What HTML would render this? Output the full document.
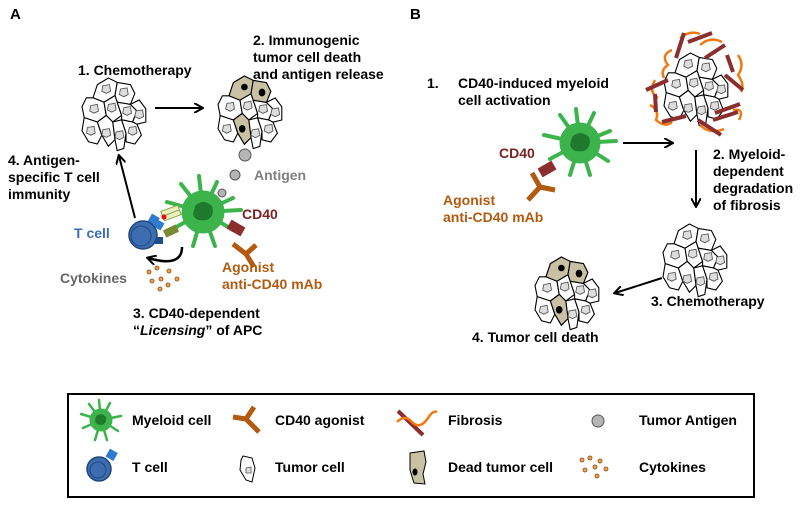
<!DOCTYPE html>
<html><head><meta charset="utf-8">
<style>
body{margin:0;background:#fff;}
svg{display:block;font-family:"Liberation Sans",Arial,sans-serif;font-weight:bold;}
</style></head>
<body>
<svg width="800" height="506" viewBox="0 0 800 506" xmlns="http://www.w3.org/2000/svg">
<defs>
<marker id="ah" markerWidth="10" markerHeight="10" refX="8" refY="5" orient="auto" markerUnits="userSpaceOnUse">
<path d="M0,0 L9,5 L0,10" fill="none" stroke="#000" stroke-width="2"/>
</marker>
<g id="nuc"><path d="M-3,-3 L3,-4 L4,2 L0,4 L-4,2 Z" fill="#ddd" stroke="#555" stroke-width="0.8"/></g>
<g id="clus" stroke="#000" stroke-width="1" fill="#fff">
<path d="M14,6 L24,0 L32,4 L30,16 L20,22 L10,18 Z"/>
<path d="M32,4 L44,6 L48,14 L44,24 L32,22 L30,16 Z"/>
<path d="M4,18 L10,18 L20,22 L22,34 L14,40 L2,36 L0,26 Z"/>
<path d="M20,22 L30,16 L32,22 L36,34 L28,40 L22,34 Z"/>
<path d="M32,22 L44,24 L50,30 L46,40 L36,38 L36,34 Z"/>
<path d="M44,24 L52,20 L58,28 L58,40 L50,42 L46,40 L50,30 Z"/>
<path d="M2,36 L14,40 L18,52 L14,60 L6,58 L0,48 Z"/>
<path d="M14,40 L22,34 L28,40 L30,56 L24,62 L18,52 Z"/>
<path d="M28,40 L36,38 L40,50 L38,64 L32,66 L30,56 Z"/>
<path d="M36,38 L46,40 L50,42 L54,52 L48,60 L40,58 L40,50 Z"/>
</g>
</defs>

<text x="10" y="19" font-size="15">A</text>
<text x="410" y="19" font-size="15">B</text>

<!-- A1 cluster -->
<g transform="translate(82,78) scale(1.1)">
<use href="#clus"/>
<use href="#nuc" x="22" y="10"/><use href="#nuc" x="38" y="13"/><use href="#nuc" x="11" y="28"/><use href="#nuc" x="27" y="27"/><use href="#nuc" x="41" y="30"/><use href="#nuc" x="52" y="33"/><use href="#nuc" x="8" y="48"/><use href="#nuc" x="22" y="50"/><use href="#nuc" x="34" y="52"/><use href="#nuc" x="46" y="48"/>
</g>
<text x="78" y="75" font-size="14">1. Chemotherapy</text>
<line x1="155" y1="108" x2="202" y2="108" stroke="#000" stroke-width="2" marker-end="url(#ah)"/>

<!-- A2 cluster -->
<g transform="translate(218,76) scale(1.1)">
<use href="#clus"/>
<path d="M14,6 L24,0 L32,4 L30,16 L20,22 L10,18 Z" fill="#c9c1a3" stroke="#000"/>
<path d="M32,4 L44,6 L48,14 L44,24 L32,22 L30,16 Z" fill="#c9c1a3" stroke="#000"/>
<path d="M14,40 L22,34 L28,40 L30,56 L24,62 L18,52 Z" fill="#c9c1a3" stroke="#000"/>
<ellipse cx="24" cy="10" rx="3" ry="3" fill="#000"/><ellipse cx="40" cy="15" rx="3" ry="3.5" fill="#000"/><ellipse cx="22" cy="48" rx="3" ry="3.5" fill="#000"/>
<use href="#nuc" x="11" y="28"/><use href="#nuc" x="27" y="27"/><use href="#nuc" x="41" y="30"/><use href="#nuc" x="52" y="33"/><use href="#nuc" x="8" y="48"/><use href="#nuc" x="34" y="52"/><use href="#nuc" x="46" y="48"/>
</g>
<text x="253" y="45" font-size="14">2. Immunogenic</text>
<text x="253" y="62" font-size="14">tumor cell death</text>
<text x="253" y="79" font-size="14">and antigen release</text>

<circle cx="245" cy="155" r="6" fill="#b5b5b5" stroke="#555"/>
<circle cx="235" cy="175" r="5" fill="#b5b5b5" stroke="#555"/>
<circle cx="222" cy="193" r="4" fill="#b5b5b5" stroke="#555"/>
<text x="254" y="180" font-size="14" fill="#808080">Antigen</text>

<g transform="translate(203,212)" fill="#3cb44b" stroke="#3cb44b">
<circle r="21"/>
<g stroke-width="4" stroke-linecap="round">
<line x1="0" y1="0" x2="-4" y2="-36"/><line x1="0" y1="0" x2="14" y2="-30"/><line x1="0" y1="0" x2="30" y2="-14"/><line x1="0" y1="0" x2="38" y2="-2"/><line x1="0" y1="0" x2="30" y2="18"/><line x1="0" y1="0" x2="12" y2="34"/><line x1="0" y1="0" x2="-10" y2="34"/><line x1="0" y1="0" x2="-32" y2="18"/><line x1="0" y1="0" x2="-36" y2="-10"/><line x1="0" y1="0" x2="-22" y2="-28"/>
</g>
<path d="M-8,-6 Q0,-14 9,-6 Q12,4 4,8 Q-8,10 -10,2 Z" fill="#1f7a2e" stroke="none"/>
</g>
<g transform="translate(171,213) rotate(-20)"><rect x="-9" y="-5" width="18" height="10" fill="#e8f0c0" stroke="#8aa040"/><line x1="-9" y1="0" x2="9" y2="0" stroke="#8aa040"/></g>
<circle cx="164" cy="217" r="2.5" fill="#f00"/>
<g transform="translate(171,231) rotate(-25)"><rect x="-7" y="-4" width="14" height="8" fill="#7a8a30"/></g>
<g transform="translate(236,228) rotate(30)"><rect x="-8" y="-5" width="16" height="10" fill="#8b2e2e"/></g>
<text x="242" y="219" font-size="14" fill="#7b2323">CD40</text>
<path d="M233,244 L246,254 L256,245 M246,254 L254,267" fill="none" stroke="#b35a10" stroke-width="5" stroke-linejoin="round"/>
<text x="222" y="272" font-size="14" fill="#b35a10">Agonist</text>
<text x="222" y="289" font-size="14" fill="#b35a10">anti-CD40 mAb</text>

<g transform="translate(143,235)">
<rect x="6" y="-20" width="9" height="9" fill="#2e7bd0" transform="rotate(30 10 -15)"/>
<rect x="12" y="-14" width="8" height="8" fill="#2e7bd0" transform="rotate(30 16 -10)"/>
<rect x="12" y="2" width="8" height="7" fill="#1f4c8a"/>
<circle r="14" fill="#3b6db0" stroke="#23467a" stroke-width="1.5"/>
<circle cx="-2" cy="1" r="10" fill="none" stroke="#23467a" stroke-width="1"/>
</g>
<text x="74" y="238" font-size="14" fill="#3d6db4">T cell</text>
<line x1="135" y1="218" x2="119" y2="156" stroke="#000" stroke-width="2" marker-end="url(#ah)"/>
<text x="8" y="165" font-size="14">4. Antigen-</text>
<text x="8" y="182" font-size="14">specific T cell</text>
<text x="8" y="199" font-size="14">immunity</text>
<path d="M182,247 Q182,268 148,258" fill="none" stroke="#000" stroke-width="2.5" marker-end="url(#ah)"/>
<text x="60" y="283" font-size="14" fill="#666">Cytokines</text>
<g fill="#f0a050" stroke="#8a4a10" stroke-width="0.8">
<circle cx="149" cy="272" r="2"/><circle cx="157" cy="268" r="2"/><circle cx="169" cy="271" r="2"/><circle cx="152" cy="281" r="2"/><circle cx="161" cy="279" r="2"/><circle cx="168" cy="285" r="2"/><circle cx="177" cy="279" r="2"/><circle cx="160" cy="289" r="2"/>
</g>
<text x="133" y="318" font-size="14">3. CD40-dependent</text>
<text x="133" y="335" font-size="14">“<tspan font-style="italic">Licensing</tspan>” of APC</text>

<!-- B -->
<text x="427" y="88" font-size="14">1.</text>
<text x="458" y="88" font-size="14">CD40-induced myeloid</text>
<text x="458" y="105" font-size="14">cell activation</text>
<g transform="translate(580,143)" fill="#3cb44b" stroke="#3cb44b">
<circle r="20"/>
<g stroke-width="4" stroke-linecap="round">
<line x1="0" y1="0" x2="-4" y2="-34"/><line x1="0" y1="0" x2="14" y2="-30"/><line x1="0" y1="0" x2="30" y2="-12"/><line x1="0" y1="0" x2="36" y2="-2"/><line x1="0" y1="0" x2="28" y2="18"/><line x1="0" y1="0" x2="10" y2="32"/><line x1="0" y1="0" x2="-10" y2="32"/><line x1="0" y1="0" x2="-30" y2="16"/><line x1="0" y1="0" x2="-36" y2="-8"/><line x1="0" y1="0" x2="-20" y2="-28"/>
</g>
<path d="M-8,-6 Q0,-14 9,-6 Q12,4 4,8 Q-8,10 -10,2 Z" fill="#1f7a2e" stroke="none"/>
</g>
<g transform="translate(547,169) rotate(-30)"><rect x="-8" y="-5" width="16" height="10" fill="#8b2e2e"/></g>
<text x="499" y="158" font-size="14" fill="#7b2323">CD40</text>
<path d="M528,200 L540,187 M540,187 L532,173 M540,187 L555,190" fill="none" stroke="#b35a10" stroke-width="5" stroke-linejoin="round"/>
<text x="443" y="205" font-size="14" fill="#b35a10">Agonist</text>
<text x="443" y="222" font-size="14" fill="#b35a10">anti-CD40 mAb</text>
<line x1="623" y1="143" x2="672" y2="143" stroke="#000" stroke-width="2" marker-end="url(#ah)"/>

<g transform="translate(664,53) scale(1.1)">
<use href="#clus"/>
<use href="#nuc" x="22" y="10"/><use href="#nuc" x="38" y="13"/><use href="#nuc" x="11" y="28"/><use href="#nuc" x="27" y="27"/><use href="#nuc" x="41" y="30"/><use href="#nuc" x="52" y="33"/><use href="#nuc" x="8" y="48"/><use href="#nuc" x="22" y="50"/><use href="#nuc" x="34" y="52"/><use href="#nuc" x="46" y="48"/>
</g>
<g fill="none" stroke="#f07a10" stroke-width="2.5">
<path d="M672,50 Q660,55 668,65 Q660,70 664,78"/>
<path d="M700,45 Q710,36 722,42"/>
<path d="M738,55 Q745,65 738,75 Q745,85 741,92"/>
<path d="M650,105 Q660,110 656,120 Q665,128 672,122"/>
<path d="M700,125 Q710,135 724,129"/>
<path d="M733,110 Q745,108 739,120"/>
<path d="M655,80 Q648,92 658,98"/>
<path d="M680,38 Q690,30 700,34"/>
</g>
<g stroke="#8b2e2e" stroke-width="4">
<line x1="684" y1="33" x2="676" y2="58"/><line x1="688" y1="42" x2="712" y2="33"/><line x1="705" y1="58" x2="725" y2="45"/>
<line x1="727" y1="55" x2="733" y2="72"/><line x1="725" y1="75" x2="743" y2="90"/><line x1="646" y1="90" x2="668" y2="80"/>
<line x1="655" y1="94" x2="656" y2="112"/><line x1="662" y1="122" x2="686" y2="116"/><line x1="698" y1="120" x2="721" y2="135"/>
<line x1="715" y1="113" x2="740" y2="104"/><line x1="713" y1="120" x2="738" y2="112"/>
</g>
<line x1="696" y1="150" x2="696" y2="206" stroke="#000" stroke-width="2" marker-end="url(#ah)"/>
<text x="713" y="159" font-size="14">2. Myeloid-</text>
<text x="713" y="176" font-size="14">dependent</text>
<text x="713" y="193" font-size="14">degradation</text>
<text x="713" y="210" font-size="14">of fibrosis</text>

<g transform="translate(663,224) scale(1.1)">
<use href="#clus"/>
<use href="#nuc" x="22" y="10"/><use href="#nuc" x="38" y="13"/><use href="#nuc" x="11" y="28"/><use href="#nuc" x="27" y="27"/><use href="#nuc" x="41" y="30"/><use href="#nuc" x="52" y="33"/><use href="#nuc" x="8" y="48"/><use href="#nuc" x="22" y="50"/><use href="#nuc" x="34" y="52"/><use href="#nuc" x="46" y="48"/>
</g>
<text x="651" y="306" font-size="14">3. Chemotherapy</text>
<line x1="662" y1="278" x2="615" y2="293" stroke="#000" stroke-width="2" marker-end="url(#ah)"/>

<g transform="translate(535,257) scale(1.1)">
<use href="#clus"/>
<path d="M14,6 L24,0 L32,4 L30,16 L20,22 L10,18 Z" fill="#c9c1a3" stroke="#000"/>
<path d="M32,4 L44,6 L48,14 L44,24 L32,22 L30,16 Z" fill="#c9c1a3" stroke="#000"/>
<path d="M14,40 L22,34 L28,40 L30,56 L24,62 L18,52 Z" fill="#c9c1a3" stroke="#000"/>
<ellipse cx="24" cy="10" rx="3" ry="3" fill="#000"/><ellipse cx="40" cy="15" rx="3" ry="3.5" fill="#000"/><ellipse cx="22" cy="48" rx="3" ry="3.5" fill="#000"/>
<use href="#nuc" x="11" y="28"/><use href="#nuc" x="27" y="27"/><use href="#nuc" x="41" y="30"/><use href="#nuc" x="52" y="33"/><use href="#nuc" x="8" y="48"/><use href="#nuc" x="34" y="52"/><use href="#nuc" x="46" y="48"/>
</g>
<text x="472" y="342" font-size="14">4. Tumor cell death</text>

<!-- Legend -->
<rect x="68" y="394" width="686" height="103" fill="none" stroke="#000" stroke-width="2"/>
<g transform="translate(101,420)" fill="#3cb44b" stroke="#3cb44b">
<circle r="11"/>
<g stroke-width="2.5" stroke-linecap="round">
<line x1="0" y1="0" x2="-2" y2="-20"/><line x1="0" y1="0" x2="9" y2="-17"/><line x1="0" y1="0" x2="20" y2="-4"/><line x1="0" y1="0" x2="17" y2="11"/><line x1="0" y1="0" x2="6" y2="20"/><line x1="0" y1="0" x2="-6" y2="20"/><line x1="0" y1="0" x2="-18" y2="8"/><line x1="0" y1="0" x2="-20" y2="-6"/><line x1="0" y1="0" x2="-12" y2="-16"/>
</g>
<path d="M-5,-4 Q1,-8 5,-3 Q6,3 1,5 Q-5,5 -6,1 Z" fill="#1f7a2e" stroke="none"/>
</g>
<text x="132" y="425" font-size="14">Myeloid cell</text>
<path d="M233,417 L246,419 L254,407 M246,419 L259,432" fill="none" stroke="#b35a10" stroke-width="5" stroke-linejoin="round"/>
<text x="275" y="425" font-size="14">CD40 agonist</text>
<line x1="398" y1="411" x2="423" y2="435" stroke="#8b2e2e" stroke-width="4"/>
<path d="M397,422 Q405,414 412,422 Q420,430 428,418 Q433,410 437,412" fill="none" stroke="#f07a10" stroke-width="2.5"/>
<text x="448" y="425" font-size="14">Fibrosis</text>
<circle cx="598" cy="421" r="6" fill="#b5b5b5" stroke="#555"/>
<text x="639" y="425" font-size="14">Tumor Antigen</text>

<g transform="translate(99,469)">
<rect x="8" y="-19" width="9" height="9" fill="#2e7bd0" transform="rotate(30 12 -14)"/>
<circle r="12" fill="#3b6db0" stroke="#23467a" stroke-width="1.5"/>
<circle cx="-1" cy="1" r="8" fill="none" stroke="#23467a" stroke-width="1"/>
</g>
<text x="132" y="472" font-size="14">T cell</text>
<path d="M243,456 L252,458 L255,468 L252,482 L246,480 L240,470 L241,460 Z" fill="#fff" stroke="#000" stroke-width="1"/>
<path d="M246,468 L251,467 L251,473 L246,473 Z" fill="#ddd" stroke="#555" stroke-width="0.8"/>
<text x="275" y="472" font-size="14">Tumor cell</text>
<path d="M410,453 L424,451 L426,462 L423,474 L425,484 L414,483 L410,470 Z" fill="#c9c1a3" stroke="#000" stroke-width="1"/>
<ellipse cx="415" cy="472" rx="2.5" ry="3.5" fill="#000"/>
<text x="448" y="472" font-size="14">Dead tumor cell</text>
<g fill="#f0a050" stroke="#8a4a10" stroke-width="0.8">
<circle cx="582" cy="460" r="2"/><circle cx="590" cy="458" r="2"/><circle cx="600" cy="461" r="2"/><circle cx="585" cy="470" r="2"/><circle cx="595" cy="467" r="2"/><circle cx="606" cy="469" r="2"/><circle cx="597" cy="476" r="2"/>
</g>
<text x="639" y="472" font-size="14">Cytokines</text>
</svg>
</body></html>
